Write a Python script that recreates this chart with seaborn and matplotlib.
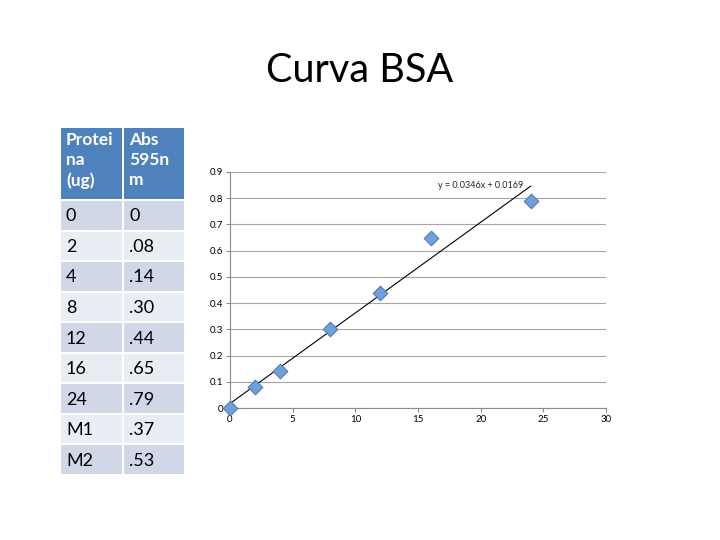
import numpy as np
import pandas as pd
import matplotlib
matplotlib.use("Agg")
import matplotlib.pyplot as plt
import seaborn as sns
from matplotlib.patches import Rectangle

# table / chart data
proteina = ["0", "2", "4", "8", "12", "16", "24", "M1", "M2"]
absorb = ["0", ".08", ".14", ".30", ".44", ".65", ".79", ".37", ".53"]
header = ["Protei\nna\n(ug)", "Abs\n595n\nm"]

std_x = [0, 2, 4, 8, 12, 16, 24]
std_y = [0, 0.08, 0.14, 0.30, 0.44, 0.65, 0.79]

sns.set_theme(style="white")
plt.rcParams["font.family"] = ["Lato", "DejaVu Sans"]

fig = plt.figure(figsize=(7.2, 5.4), dpi=100)
fig.patch.set_facecolor("white")

fig.text(0.5, 0.87, "Curva BSA", ha="center", va="center", fontsize=28.5, color="black")

# ---- table on the left, drawn in pixel-like coords
tab = fig.add_axes([60 / 720, 1 - 475 / 540, 125 / 720, 348 / 540])
tab.set_xlim(0, 125)
tab.set_ylim(348, 0)
tab.axis("off")

col_x = [0, 63, 125]
head_h = 73
row_h = (348 - head_h) / len(proteina)
gap = 1.0

for c in range(2):
    tab.add_patch(Rectangle((col_x[c] + gap, gap), col_x[c + 1] - col_x[c] - 2 * gap, head_h - 2 * gap,
                            facecolor="#4F81BD", edgecolor="none"))
    tab.text(col_x[c] + 6, 5, header[c], ha="left", va="top", fontsize=12.5, fontweight="bold",
             color="white", linespacing=1.3)

for r, (p, a) in enumerate(zip(proteina, absorb)):
    y0 = head_h + r * row_h
    fc = "#D0D8E8" if r % 2 == 0 else "#E9EDF4"
    for c, txt in enumerate([p, a]):
        tab.add_patch(Rectangle((col_x[c] + gap, y0 + gap), col_x[c + 1] - col_x[c] - 2 * gap, row_h - 2 * gap,
                                facecolor=fc, edgecolor="none"))
        tab.text(col_x[c] + 6, y0 + row_h / 2 + 1, txt, ha="left", va="center", fontsize=13, color="black")

# ---- scatter chart with linear trend line
df = pd.DataFrame({"x": std_x, "y": std_y})
slope, intercept = np.polyfit(df["x"], df["y"], 1)

ax = fig.add_axes([230 / 720, 1 - 408 / 540, 376 / 720, 236 / 540])
sns.regplot(data=df, x="x", y="y", ax=ax, ci=None, scatter=False,
            line_kws={"color": "black", "lw": 0.8})
sns.scatterplot(data=df, x="x", y="y", ax=ax, marker="D", s=55,
                color="#729FD8", edgecolor="#4A7EBB", linewidth=0.8, zorder=5, clip_on=False)

ax.text(16.6, 0.847, f"y = {slope:.4f}x + {intercept:.4f}", ha="left", va="center", fontsize=6.5)

ax.set_xlim(0, 30)
ax.set_ylim(0, 0.9)
ax.set_xticks(range(0, 31, 5))
ax.set_yticks(np.arange(0, 0.91, 0.1))
ax.set_yticklabels(["0"] + [f"{v:.1f}" for v in np.arange(0.1, 0.91, 0.1)])
ax.set_xlabel("")
ax.set_ylabel("")
ax.grid(axis="y", color="#A6A6A6", lw=0.8)
ax.set_axisbelow(True)
for s in ["top", "right"]:
    ax.spines[s].set_visible(False)
for s in ["left", "bottom"]:
    ax.spines[s].set_color("#8C8C8C")
    ax.spines[s].set_linewidth(0.8)
ax.tick_params(axis="both", labelsize=7, colors="#8C8C8C", labelcolor="black",
               length=3, width=0.8, direction="out", bottom=True, left=True, pad=2)

fig.savefig("out.png", dpi=100)
